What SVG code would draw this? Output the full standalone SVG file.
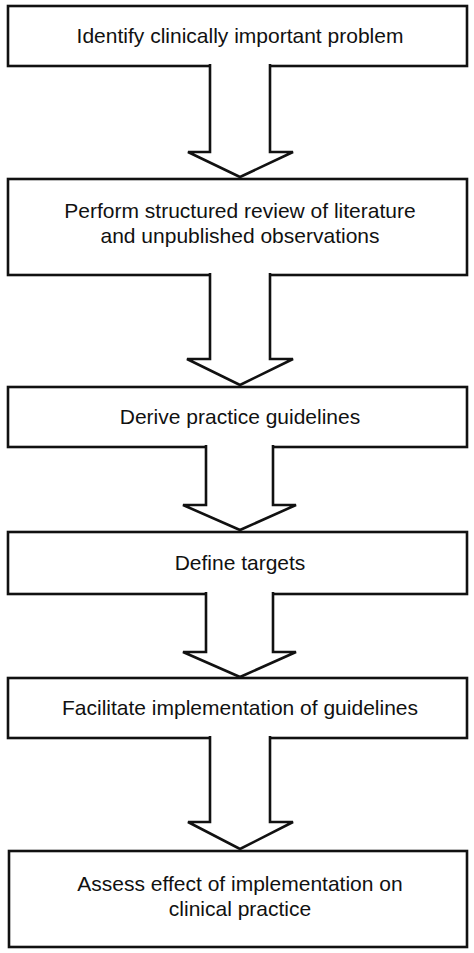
<svg xmlns="http://www.w3.org/2000/svg" width="474" height="953" viewBox="0 0 474 953">
<style>
.box{fill:#fff;stroke:#111;stroke-width:2.6}
.arr{fill:#fff;stroke:#111;stroke-width:2.6;stroke-linejoin:miter}
.t{font-family:"Liberation Sans",Arial,sans-serif;font-size:21px;fill:#111;text-anchor:middle}
</style>
<rect width="474" height="953" fill="#fff"/>
<g id="n1"><rect class="box" x="8" y="6" width="459" height="60"/><text class="t" x="240" y="43">Identify clinically important problem</text></g>
<g id="n2"><rect class="box" x="8" y="179" width="459" height="96"/><text class="t" x="240" y="218">Perform structured review of literature</text><text class="t" x="240" y="243">and unpublished observations</text></g>
<g id="n3"><rect class="box" x="8" y="387" width="459" height="60"/><text class="t" x="240" y="424">Derive practice guidelines</text></g>
<g id="n4"><rect class="box" x="8" y="532" width="459" height="62"/><text class="t" x="240" y="570">Define targets</text></g>
<g id="n5"><rect class="box" x="8" y="678" width="459" height="60"/><text class="t" x="240" y="715">Facilitate implementation of guidelines</text></g>
<g id="n6"><rect class="box" x="9" y="851" width="458" height="96"/><text class="t" x="240" y="891">Assess effect of implementation on</text><text class="t" x="240" y="916">clinical practice</text></g>
<g id="connectors">
<path class="arr" d="M210,64 L210,152 L188,152 L240,177 L293,152 L270,152 L270,64"/>
<path class="arr" d="M210,273 L210,359 L187,359 L240,385 L293,359 L270,359 L270,273"/>
<path class="arr" d="M206,445 L206,505 L183,505 L240,530 L296,505 L273,505 L273,445"/>
<path class="arr" d="M206,592 L206,652 L183,652 L240,677 L296,652 L273,652 L273,592"/>
<path class="arr" d="M210,736 L210,822 L188,822 L240,849 L293,822 L270,822 L270,736"/>
</g>
</svg>
